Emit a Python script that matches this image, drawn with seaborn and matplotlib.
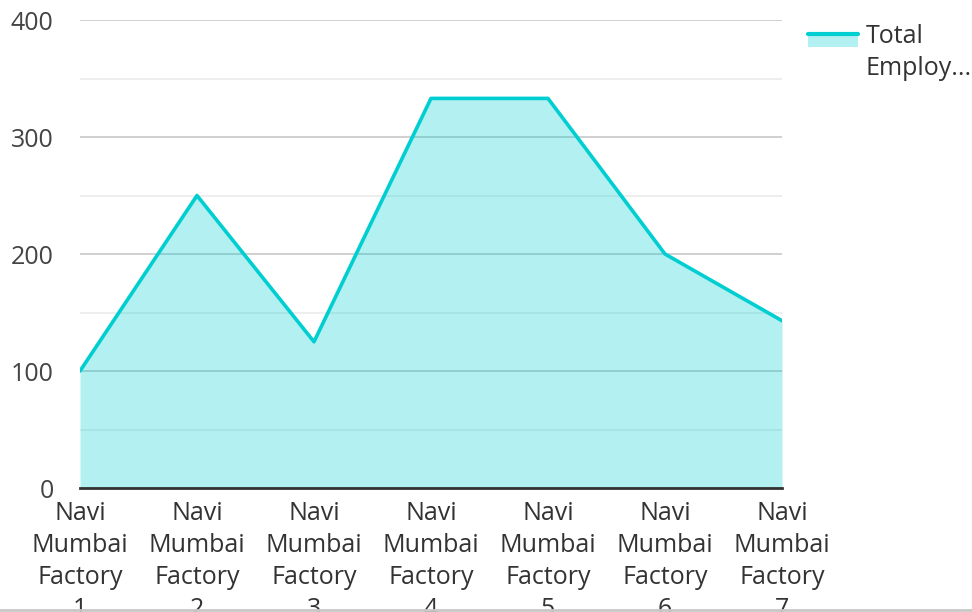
import matplotlib
matplotlib.use("Agg")
import pandas as pd
import seaborn as sns
import matplotlib.pyplot as plt
from matplotlib.legend_handler import HandlerBase
from matplotlib.patches import Rectangle
from matplotlib.lines import Line2D
from matplotlib.ticker import MultipleLocator

# datos
factories = ["Navi\nMumbai\nFactory\n1", "Navi\nMumbai\nFactory\n2", "Navi\nMumbai\nFactory\n3",
             "Navi\nMumbai\nFactory\n4", "Navi\nMumbai\nFactory\n5", "Navi\nMumbai\nFactory\n6",
             "Navi\nMumbai\nFactory\n7"]
total_employees = [100, 250, 125, 333, 333, 200, 143]
series_name = "Total\nEmploy..."

LINE = "#00CED1"
FILL_ALPHA = 0.3

sns.set_theme(style="white")
plt.rcParams["font.family"] = ["Open Sans", "DejaVu Sans"]

df = pd.DataFrame({"factory": factories, "employees": total_employees})
df["pos"] = range(len(df))

fig = plt.figure(figsize=(9.72, 6.12), dpi=100)
ax = fig.add_axes([0.0823, 0.2026, 0.7222, 0.7647])

# el area va encima de la grilla, semi transparente
ax.fill_between(df["pos"], 0, df["employees"], color=LINE, alpha=FILL_ALPHA, lw=0, zorder=2)
sns.lineplot(data=df, x="pos", y="employees", color=LINE, lw=2.6, ax=ax, zorder=3)

ax.set_xlim(0, len(df) - 1)
ax.set_ylim(0, 400)
ax.set_xticks(df["pos"])
ax.set_xticklabels(df["factory"], fontsize=18, color="#333333", linespacing=1.38)
ax.yaxis.set_major_locator(MultipleLocator(100))
ax.yaxis.set_minor_locator(MultipleLocator(50))
ax.tick_params(axis="y", labelsize=18, labelcolor="#444444", length=0, pad=19)
ax.tick_params(axis="x", length=0, pad=9)
ax.tick_params(axis="y", which="minor", length=0)
ax.grid(axis="y", which="major", color="#C8C8C8", lw=1.2, zorder=1)
ax.grid(axis="y", which="minor", color="#EBEBEB", lw=1.2, zorder=1)
ax.set_axisbelow(True)
for s in ["top", "right", "left"]:
    ax.spines[s].set_visible(False)
ax.spines["bottom"].set_color("#333333")
ax.spines["bottom"].set_linewidth(2)
ax.spines["bottom"].set_zorder(4)
ax.set_xlabel("")
ax.set_ylabel("")


class AreaHandler(HandlerBase):
    # caja de color arriba, alineada con la primera linea del texto
    def create_artists(self, legend, orig, xd, yd, width, height, fontsize, trans):
        top = -yd + height
        r = Rectangle((-xd, top - 9.4), width, 9.4, facecolor=LINE, alpha=FILL_ALPHA,
                      edgecolor="none", transform=trans)
        l = Line2D([-xd, -xd + width], [top, top], color=LINE, lw=3, transform=trans)
        return [r, l]


leg = ax.legend(handles=[Rectangle((0, 0), 1, 1)], labels=[series_name],
                handler_map={Rectangle: AreaHandler()},
                loc="upper left", bbox_to_anchor=(0.831, 0.96), bbox_transform=fig.transFigure,
                frameon=False, fontsize=18, handlelength=2.0, handleheight=2.2,
                handletextpad=0.32, labelcolor="#333333", borderaxespad=0, borderpad=0)
for t in leg.get_texts():
    t.set_linespacing(1.35)

# linea gris inferior
fig.add_artist(Line2D([0, 1], [0.004, 0.004], color="#C8C8C8", lw=2, transform=fig.transFigure))

fig.savefig("out.png", dpi=100)
